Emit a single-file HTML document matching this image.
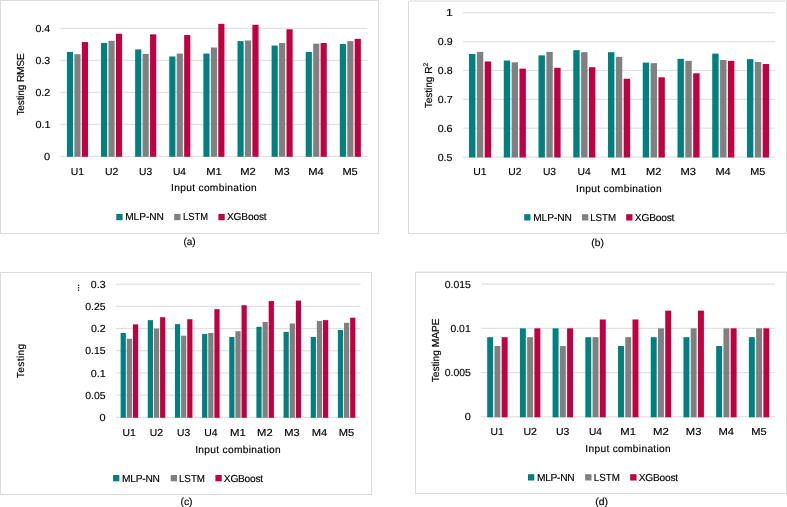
<!DOCTYPE html>
<html><head><meta charset="utf-8"><style>
html,body{margin:0;padding:0;background:#fff;}
svg{display:block;will-change:transform;}
text{font-family:"Liberation Sans",sans-serif;font-size:10.2px;fill:#000000;text-rendering:geometricPrecision;stroke:#000000;stroke-width:0.15px;}
</style></head><body>
<svg width="787" height="507" viewBox="0 0 787 507">
<rect x="0" y="0" width="787" height="507" fill="#fff"/>
<rect x="0.00" y="0.00" width="379.00" height="1.00" fill="#dcdcdc"/>
<rect x="0.00" y="233.00" width="379.00" height="1.00" fill="#dcdcdc"/>
<rect x="0.00" y="0.00" width="1.00" height="234.00" fill="#dcdcdc"/>
<rect x="378.00" y="0.00" width="1.00" height="234.00" fill="#dcdcdc"/>
<rect x="60.50" y="155.70" width="306.90" height="1.20" fill="#e0e0e0"/>
<rect x="60.50" y="123.70" width="306.90" height="1.20" fill="#e0e0e0"/>
<rect x="60.50" y="91.70" width="306.90" height="1.20" fill="#e0e0e0"/>
<rect x="60.50" y="59.70" width="306.90" height="1.20" fill="#e0e0e0"/>
<rect x="60.50" y="27.70" width="306.90" height="1.20" fill="#e0e0e0"/>
<rect x="66.93" y="51.98" width="6.15" height="104.82" fill="#008080"/>
<rect x="74.38" y="54.22" width="6.15" height="102.58" fill="#808080"/>
<rect x="81.83" y="42.06" width="6.15" height="114.74" fill="#C00040"/>
<rect x="101.04" y="43.02" width="6.15" height="113.78" fill="#008080"/>
<rect x="108.49" y="40.78" width="6.15" height="116.02" fill="#808080"/>
<rect x="115.94" y="33.74" width="6.15" height="123.06" fill="#C00040"/>
<rect x="135.15" y="49.42" width="6.15" height="107.38" fill="#008080"/>
<rect x="142.60" y="53.90" width="6.15" height="102.90" fill="#808080"/>
<rect x="150.05" y="34.38" width="6.15" height="122.42" fill="#C00040"/>
<rect x="169.26" y="56.46" width="6.15" height="100.34" fill="#008080"/>
<rect x="176.71" y="53.58" width="6.15" height="103.22" fill="#808080"/>
<rect x="184.16" y="35.02" width="6.15" height="121.78" fill="#C00040"/>
<rect x="203.38" y="53.58" width="6.15" height="103.22" fill="#008080"/>
<rect x="210.82" y="47.50" width="6.15" height="109.30" fill="#808080"/>
<rect x="218.28" y="23.82" width="6.15" height="132.98" fill="#C00040"/>
<rect x="237.49" y="41.10" width="6.15" height="115.70" fill="#008080"/>
<rect x="244.94" y="40.46" width="6.15" height="116.34" fill="#808080"/>
<rect x="252.39" y="24.78" width="6.15" height="132.02" fill="#C00040"/>
<rect x="271.60" y="45.58" width="6.15" height="111.22" fill="#008080"/>
<rect x="279.05" y="43.02" width="6.15" height="113.78" fill="#808080"/>
<rect x="286.50" y="29.26" width="6.15" height="127.54" fill="#C00040"/>
<rect x="305.71" y="51.98" width="6.15" height="104.82" fill="#008080"/>
<rect x="313.16" y="43.66" width="6.15" height="113.14" fill="#808080"/>
<rect x="320.61" y="43.02" width="6.15" height="113.78" fill="#C00040"/>
<rect x="339.82" y="43.98" width="6.15" height="112.82" fill="#008080"/>
<rect x="347.27" y="41.10" width="6.15" height="115.70" fill="#808080"/>
<rect x="354.72" y="38.86" width="6.15" height="117.94" fill="#C00040"/>
<rect x="116.30" y="213.90" width="6.30" height="6.30" fill="#008080"/>
<rect x="174.20" y="213.90" width="6.30" height="6.30" fill="#808080"/>
<rect x="218.40" y="213.90" width="6.30" height="6.30" fill="#C00040"/>
<rect x="408.00" y="1.00" width="379.00" height="1.00" fill="#dcdcdc"/>
<rect x="408.00" y="233.00" width="379.00" height="1.00" fill="#dcdcdc"/>
<rect x="408.00" y="1.00" width="1.00" height="233.00" fill="#dcdcdc"/>
<rect x="786.00" y="1.00" width="1.00" height="233.00" fill="#dcdcdc"/>
<rect x="409.00" y="0.00" width="378.00" height="2.00" fill="#ececec"/>
<rect x="463.00" y="156.40" width="312.10" height="1.20" fill="#e0e0e0"/>
<rect x="463.00" y="127.56" width="312.10" height="1.20" fill="#e0e0e0"/>
<rect x="463.00" y="98.72" width="312.10" height="1.20" fill="#e0e0e0"/>
<rect x="463.00" y="69.88" width="312.10" height="1.20" fill="#e0e0e0"/>
<rect x="463.00" y="41.04" width="312.10" height="1.20" fill="#e0e0e0"/>
<rect x="463.00" y="12.20" width="312.10" height="1.20" fill="#e0e0e0"/>
<rect x="469.02" y="53.92" width="6.40" height="103.58" fill="#008080"/>
<rect x="476.87" y="51.89" width="6.40" height="105.61" fill="#808080"/>
<rect x="484.72" y="61.43" width="6.40" height="96.07" fill="#C00040"/>
<rect x="503.77" y="60.56" width="6.40" height="96.94" fill="#008080"/>
<rect x="511.62" y="62.30" width="6.40" height="95.20" fill="#808080"/>
<rect x="519.47" y="68.65" width="6.40" height="88.85" fill="#C00040"/>
<rect x="538.51" y="55.36" width="6.40" height="102.14" fill="#008080"/>
<rect x="546.36" y="51.89" width="6.40" height="105.61" fill="#808080"/>
<rect x="554.21" y="67.79" width="6.40" height="89.71" fill="#C00040"/>
<rect x="573.26" y="50.16" width="6.40" height="107.34" fill="#008080"/>
<rect x="581.11" y="52.18" width="6.40" height="105.32" fill="#808080"/>
<rect x="588.96" y="67.21" width="6.40" height="90.29" fill="#C00040"/>
<rect x="608.00" y="52.18" width="6.40" height="105.32" fill="#008080"/>
<rect x="615.85" y="56.81" width="6.40" height="100.69" fill="#808080"/>
<rect x="623.70" y="78.77" width="6.40" height="78.73" fill="#C00040"/>
<rect x="642.74" y="62.59" width="6.40" height="94.91" fill="#008080"/>
<rect x="650.59" y="63.16" width="6.40" height="94.34" fill="#808080"/>
<rect x="658.44" y="77.32" width="6.40" height="80.18" fill="#C00040"/>
<rect x="677.49" y="58.83" width="6.40" height="98.67" fill="#008080"/>
<rect x="685.34" y="60.85" width="6.40" height="96.65" fill="#808080"/>
<rect x="693.19" y="73.28" width="6.40" height="84.22" fill="#C00040"/>
<rect x="712.23" y="53.63" width="6.40" height="103.87" fill="#008080"/>
<rect x="720.08" y="59.99" width="6.40" height="97.51" fill="#808080"/>
<rect x="727.93" y="60.85" width="6.40" height="96.65" fill="#C00040"/>
<rect x="746.98" y="59.12" width="6.40" height="98.38" fill="#008080"/>
<rect x="754.83" y="62.01" width="6.40" height="95.49" fill="#808080"/>
<rect x="762.68" y="64.03" width="6.40" height="93.47" fill="#C00040"/>
<rect x="524.20" y="214.20" width="6.30" height="6.30" fill="#008080"/>
<rect x="582.00" y="214.20" width="6.30" height="6.30" fill="#808080"/>
<rect x="626.20" y="214.20" width="6.30" height="6.30" fill="#C00040"/>
<rect x="0.00" y="272.00" width="372.00" height="1.00" fill="#dcdcdc"/>
<rect x="0.00" y="494.00" width="372.00" height="1.00" fill="#dcdcdc"/>
<rect x="0.00" y="272.00" width="1.00" height="223.00" fill="#dcdcdc"/>
<rect x="371.00" y="272.00" width="1.00" height="223.00" fill="#dcdcdc"/>
<rect x="115.90" y="416.70" width="244.70" height="1.20" fill="#e0e0e0"/>
<rect x="115.90" y="394.52" width="244.70" height="1.20" fill="#e0e0e0"/>
<rect x="115.90" y="372.33" width="244.70" height="1.20" fill="#e0e0e0"/>
<rect x="115.90" y="350.15" width="244.70" height="1.20" fill="#e0e0e0"/>
<rect x="115.90" y="327.97" width="244.70" height="1.20" fill="#e0e0e0"/>
<rect x="115.90" y="305.78" width="244.70" height="1.20" fill="#e0e0e0"/>
<rect x="115.90" y="283.60" width="244.70" height="1.20" fill="#e0e0e0"/>
<rect x="120.63" y="333.00" width="5.20" height="84.80" fill="#008080"/>
<rect x="126.78" y="338.77" width="5.20" height="79.03" fill="#808080"/>
<rect x="132.93" y="324.35" width="5.20" height="93.45" fill="#C00040"/>
<rect x="147.78" y="320.14" width="5.20" height="97.66" fill="#008080"/>
<rect x="153.93" y="328.57" width="5.20" height="89.23" fill="#808080"/>
<rect x="160.08" y="317.21" width="5.20" height="100.59" fill="#C00040"/>
<rect x="174.94" y="324.13" width="5.20" height="93.67" fill="#008080"/>
<rect x="181.09" y="335.67" width="5.20" height="82.13" fill="#808080"/>
<rect x="187.24" y="319.25" width="5.20" height="98.55" fill="#C00040"/>
<rect x="202.09" y="333.89" width="5.20" height="83.91" fill="#008080"/>
<rect x="208.24" y="333.00" width="5.20" height="84.80" fill="#808080"/>
<rect x="214.39" y="309.18" width="5.20" height="108.62" fill="#C00040"/>
<rect x="229.25" y="337.00" width="5.20" height="80.80" fill="#008080"/>
<rect x="235.40" y="331.23" width="5.20" height="86.57" fill="#808080"/>
<rect x="241.55" y="305.19" width="5.20" height="112.61" fill="#C00040"/>
<rect x="256.41" y="326.79" width="5.20" height="91.01" fill="#008080"/>
<rect x="262.56" y="321.91" width="5.20" height="95.89" fill="#808080"/>
<rect x="268.71" y="301.06" width="5.20" height="116.74" fill="#C00040"/>
<rect x="283.56" y="331.89" width="5.20" height="85.91" fill="#008080"/>
<rect x="289.71" y="323.46" width="5.20" height="94.34" fill="#808080"/>
<rect x="295.86" y="300.62" width="5.20" height="117.18" fill="#C00040"/>
<rect x="310.72" y="337.00" width="5.20" height="80.80" fill="#008080"/>
<rect x="316.87" y="321.02" width="5.20" height="96.78" fill="#808080"/>
<rect x="323.02" y="320.14" width="5.20" height="97.66" fill="#C00040"/>
<rect x="337.87" y="329.90" width="5.20" height="87.90" fill="#008080"/>
<rect x="344.02" y="322.80" width="5.20" height="95.00" fill="#808080"/>
<rect x="350.17" y="317.70" width="5.20" height="100.10" fill="#C00040"/>
<rect x="77.90" y="284.60" width="1.30" height="1.30" fill="#111"/>
<rect x="77.90" y="287.10" width="1.30" height="1.30" fill="#111"/>
<rect x="77.90" y="289.60" width="1.30" height="1.30" fill="#111"/>
<rect x="113.05" y="475.00" width="6.30" height="6.30" fill="#008080"/>
<rect x="170.70" y="475.00" width="6.30" height="6.30" fill="#808080"/>
<rect x="215.40" y="475.00" width="6.30" height="6.30" fill="#C00040"/>
<rect x="415.00" y="272.00" width="372.00" height="1.00" fill="#dcdcdc"/>
<rect x="415.00" y="493.00" width="372.00" height="1.00" fill="#dcdcdc"/>
<rect x="415.00" y="272.00" width="1.00" height="222.00" fill="#dcdcdc"/>
<rect x="786.00" y="272.00" width="1.00" height="222.00" fill="#dcdcdc"/>
<rect x="416.00" y="271.00" width="371.00" height="1.00" fill="#f0f0f0"/>
<rect x="481.30" y="416.20" width="293.80" height="1.20" fill="#e0e0e0"/>
<rect x="481.30" y="371.97" width="293.80" height="1.20" fill="#e0e0e0"/>
<rect x="481.30" y="327.73" width="293.80" height="1.20" fill="#e0e0e0"/>
<rect x="481.30" y="283.50" width="293.80" height="1.20" fill="#e0e0e0"/>
<rect x="487.18" y="337.18" width="5.95" height="80.12" fill="#008080"/>
<rect x="494.43" y="346.03" width="5.95" height="71.27" fill="#808080"/>
<rect x="501.68" y="337.18" width="5.95" height="80.12" fill="#C00040"/>
<rect x="519.89" y="328.33" width="5.95" height="88.97" fill="#008080"/>
<rect x="527.14" y="337.18" width="5.95" height="80.12" fill="#808080"/>
<rect x="534.39" y="328.33" width="5.95" height="88.97" fill="#C00040"/>
<rect x="552.60" y="328.33" width="5.95" height="88.97" fill="#008080"/>
<rect x="559.85" y="346.03" width="5.95" height="71.27" fill="#808080"/>
<rect x="567.10" y="328.33" width="5.95" height="88.97" fill="#C00040"/>
<rect x="585.31" y="337.18" width="5.95" height="80.12" fill="#008080"/>
<rect x="592.56" y="337.18" width="5.95" height="80.12" fill="#808080"/>
<rect x="599.81" y="319.49" width="5.95" height="97.81" fill="#C00040"/>
<rect x="618.02" y="346.03" width="5.95" height="71.27" fill="#008080"/>
<rect x="625.27" y="337.18" width="5.95" height="80.12" fill="#808080"/>
<rect x="632.52" y="319.49" width="5.95" height="97.81" fill="#C00040"/>
<rect x="650.74" y="337.18" width="5.95" height="80.12" fill="#008080"/>
<rect x="657.99" y="328.33" width="5.95" height="88.97" fill="#808080"/>
<rect x="665.24" y="310.64" width="5.95" height="106.66" fill="#C00040"/>
<rect x="683.45" y="337.18" width="5.95" height="80.12" fill="#008080"/>
<rect x="690.70" y="328.33" width="5.95" height="88.97" fill="#808080"/>
<rect x="697.95" y="310.64" width="5.95" height="106.66" fill="#C00040"/>
<rect x="716.16" y="346.03" width="5.95" height="71.27" fill="#008080"/>
<rect x="723.41" y="328.33" width="5.95" height="88.97" fill="#808080"/>
<rect x="730.66" y="328.33" width="5.95" height="88.97" fill="#C00040"/>
<rect x="748.87" y="337.18" width="5.95" height="80.12" fill="#008080"/>
<rect x="756.12" y="328.33" width="5.95" height="88.97" fill="#808080"/>
<rect x="763.37" y="328.33" width="5.95" height="88.97" fill="#C00040"/>
<rect x="528.00" y="474.20" width="6.30" height="6.30" fill="#008080"/>
<rect x="585.20" y="474.20" width="6.30" height="6.30" fill="#808080"/>
<rect x="630.20" y="474.20" width="6.30" height="6.30" fill="#C00040"/>
<text id="t0" x="43.97" y="159.90" textLength="6.13" lengthAdjust="spacingAndGlyphs">0</text>
<text id="t1" x="35.42" y="127.90" textLength="15.09" lengthAdjust="spacingAndGlyphs">0.1</text>
<text id="t2" x="35.45" y="95.90" textLength="14.83" lengthAdjust="spacingAndGlyphs">0.2</text>
<text id="t3" x="35.59" y="63.90" textLength="14.67" lengthAdjust="spacingAndGlyphs">0.3</text>
<text id="t4" x="35.42" y="31.90" textLength="14.81" lengthAdjust="spacingAndGlyphs">0.4</text>
<text id="t5" x="70.77" y="175.00" textLength="13.32" lengthAdjust="spacingAndGlyphs">U1</text>
<text id="t6" x="104.94" y="175.00" textLength="13.33" lengthAdjust="spacingAndGlyphs">U2</text>
<text id="t7" x="139.01" y="175.00" textLength="13.18" lengthAdjust="spacingAndGlyphs">U3</text>
<text id="t8" x="172.92" y="175.00" textLength="13.11" lengthAdjust="spacingAndGlyphs">U4</text>
<text id="t9" x="206.16" y="175.00" textLength="15.52" lengthAdjust="spacingAndGlyphs">M1</text>
<text id="t10" x="240.16" y="175.00" textLength="15.54" lengthAdjust="spacingAndGlyphs">M2</text>
<text id="t11" x="274.26" y="175.00" textLength="15.43" lengthAdjust="spacingAndGlyphs">M3</text>
<text id="t12" x="308.22" y="175.00" textLength="15.52" lengthAdjust="spacingAndGlyphs">M4</text>
<text id="t13" x="342.43" y="175.00" textLength="15.32" lengthAdjust="spacingAndGlyphs">M5</text>
<text id="t14" x="171.01" y="191.00" textLength="85.65" lengthAdjust="spacing">Input combination</text>
<text id="t15" transform="translate(24.00,115.62) rotate(-90)" x="0" y="0" textLength="62.38" lengthAdjust="spacing">Testing RMSE</text>
<text id="t16" x="125.15" y="220.00" textLength="38.76" lengthAdjust="spacing">MLP-NN</text>
<text id="t17" x="183.01" y="220.00" textLength="25.00" lengthAdjust="spacingAndGlyphs">LSTM</text>
<text id="t18" x="226.99" y="220.00" textLength="39.71" lengthAdjust="spacing">XGBoost</text>
<text id="t19" x="183.40" y="244.70" textLength="12.25" lengthAdjust="spacingAndGlyphs">(a)</text>
<text id="t20" x="437.65" y="160.60" textLength="14.93" lengthAdjust="spacingAndGlyphs">0.5</text>
<text id="t21" x="437.65" y="131.76" textLength="14.93" lengthAdjust="spacingAndGlyphs">0.6</text>
<text id="t22" x="437.89" y="102.92" textLength="14.79" lengthAdjust="spacingAndGlyphs">0.7</text>
<text id="t23" x="437.89" y="74.08" textLength="14.68" lengthAdjust="spacingAndGlyphs">0.8</text>
<text id="t24" x="437.89" y="45.24" textLength="14.77" lengthAdjust="spacingAndGlyphs">0.9</text>
<text id="t25" x="445.96" y="16.40" textLength="6.77" lengthAdjust="spacingAndGlyphs">1</text>
<text id="t26" x="473.24" y="175.00" textLength="13.36" lengthAdjust="spacingAndGlyphs">U1</text>
<text id="t27" x="508.27" y="175.00" textLength="13.25" lengthAdjust="spacingAndGlyphs">U2</text>
<text id="t28" x="542.93" y="175.00" textLength="13.16" lengthAdjust="spacingAndGlyphs">U3</text>
<text id="t29" x="577.48" y="175.00" textLength="13.27" lengthAdjust="spacingAndGlyphs">U4</text>
<text id="t30" x="611.01" y="175.00" textLength="15.50" lengthAdjust="spacingAndGlyphs">M1</text>
<text id="t31" x="645.94" y="175.00" textLength="15.33" lengthAdjust="spacingAndGlyphs">M2</text>
<text id="t32" x="680.60" y="175.00" textLength="15.48" lengthAdjust="spacingAndGlyphs">M3</text>
<text id="t33" x="715.41" y="175.00" textLength="15.31" lengthAdjust="spacingAndGlyphs">M4</text>
<text id="t34" x="750.32" y="175.00" textLength="15.09" lengthAdjust="spacingAndGlyphs">M5</text>
<text id="t35" x="576.01" y="192.00" textLength="85.65" lengthAdjust="spacing">Input combination</text>
<text id="t36" transform="translate(432.00,108.33) rotate(-90)" x="0" y="0" textLength="45.60" lengthAdjust="spacing">Testing R<tspan dy="-3.9" font-size="6.8">2</tspan></text>
<text id="t37" x="533.15" y="221.00" textLength="38.73" lengthAdjust="spacing">MLP-NN</text>
<text id="t38" x="590.16" y="221.00" textLength="26.00" lengthAdjust="spacingAndGlyphs">LSTM</text>
<text id="t39" x="634.87" y="221.00" textLength="39.59" lengthAdjust="spacing">XGBoost</text>
<text id="t40" x="591.29" y="245.70" textLength="12.58" lengthAdjust="spacingAndGlyphs">(b)</text>
<text id="t41" x="99.50" y="420.90" textLength="6.09" lengthAdjust="spacingAndGlyphs">0</text>
<text id="t42" x="85.25" y="398.72" textLength="20.31" lengthAdjust="spacingAndGlyphs">0.05</text>
<text id="t43" x="90.78" y="376.53" textLength="15.07" lengthAdjust="spacingAndGlyphs">0.1</text>
<text id="t44" x="85.25" y="354.35" textLength="20.31" lengthAdjust="spacingAndGlyphs">0.15</text>
<text id="t45" x="90.91" y="332.17" textLength="14.76" lengthAdjust="spacingAndGlyphs">0.2</text>
<text id="t46" x="85.25" y="309.98" textLength="20.31" lengthAdjust="spacingAndGlyphs">0.25</text>
<text id="t47" x="90.89" y="287.80" textLength="14.69" lengthAdjust="spacingAndGlyphs">0.3</text>
<text id="t48" x="122.58" y="436.00" textLength="13.28" lengthAdjust="spacingAndGlyphs">U1</text>
<text id="t49" x="149.89" y="436.00" textLength="13.27" lengthAdjust="spacingAndGlyphs">U2</text>
<text id="t50" x="177.05" y="436.00" textLength="13.11" lengthAdjust="spacingAndGlyphs">U3</text>
<text id="t51" x="204.15" y="436.00" textLength="13.36" lengthAdjust="spacingAndGlyphs">U4</text>
<text id="t52" x="230.05" y="436.00" textLength="15.80" lengthAdjust="spacingAndGlyphs">M1</text>
<text id="t53" x="257.13" y="436.00" textLength="15.58" lengthAdjust="spacingAndGlyphs">M2</text>
<text id="t54" x="284.38" y="436.00" textLength="15.42" lengthAdjust="spacingAndGlyphs">M3</text>
<text id="t55" x="311.65" y="436.00" textLength="15.53" lengthAdjust="spacingAndGlyphs">M4</text>
<text id="t56" x="338.68" y="436.00" textLength="15.49" lengthAdjust="spacingAndGlyphs">M5</text>
<text id="t57" x="195.15" y="452.50" textLength="85.58" lengthAdjust="spacing">Input combination</text>
<text id="t58" transform="translate(24.00,378.33) rotate(-90)" x="0" y="0" textLength="34.61" lengthAdjust="spacing">Testing</text>
<text id="t59" x="122.12" y="481.50" textLength="37.77" lengthAdjust="spacing">MLP-NN</text>
<text id="t60" x="178.91" y="481.50" textLength="26.11" lengthAdjust="spacingAndGlyphs">LSTM</text>
<text id="t61" x="223.87" y="481.50" textLength="39.18" lengthAdjust="spacing">XGBoost</text>
<text id="t62" x="180.44" y="504.80" textLength="12.07" lengthAdjust="spacingAndGlyphs">(c)</text>
<text id="t63" x="464.67" y="420.40" textLength="6.15" lengthAdjust="spacingAndGlyphs">0</text>
<text id="t64" x="444.73" y="376.17" textLength="26.10" lengthAdjust="spacingAndGlyphs">0.005</text>
<text id="t65" x="450.48" y="331.93" textLength="20.20" lengthAdjust="spacingAndGlyphs">0.01</text>
<text id="t66" x="444.73" y="287.70" textLength="26.10" lengthAdjust="spacingAndGlyphs">0.015</text>
<text id="t67" x="490.61" y="435.00" textLength="13.30" lengthAdjust="spacingAndGlyphs">U1</text>
<text id="t68" x="523.41" y="435.00" textLength="13.52" lengthAdjust="spacingAndGlyphs">U2</text>
<text id="t69" x="556.00" y="435.00" textLength="13.40" lengthAdjust="spacingAndGlyphs">U3</text>
<text id="t70" x="588.94" y="435.00" textLength="12.97" lengthAdjust="spacingAndGlyphs">U4</text>
<text id="t71" x="620.27" y="435.00" textLength="15.64" lengthAdjust="spacingAndGlyphs">M1</text>
<text id="t72" x="652.93" y="435.00" textLength="15.84" lengthAdjust="spacingAndGlyphs">M2</text>
<text id="t73" x="685.81" y="435.00" textLength="15.59" lengthAdjust="spacingAndGlyphs">M3</text>
<text id="t74" x="718.48" y="435.00" textLength="15.53" lengthAdjust="spacingAndGlyphs">M4</text>
<text id="t75" x="751.24" y="435.00" textLength="15.44" lengthAdjust="spacingAndGlyphs">M5</text>
<text id="t76" x="585.34" y="452.00" textLength="85.38" lengthAdjust="spacing">Input combination</text>
<text id="t77" transform="translate(439.00,382.33) rotate(-90)" x="0" y="0" textLength="63.97" lengthAdjust="spacing">Testing MAPE</text>
<text id="t78" x="536.94" y="481.00" textLength="37.67" lengthAdjust="spacing">MLP-NN</text>
<text id="t79" x="593.73" y="481.00" textLength="26.09" lengthAdjust="spacingAndGlyphs">LSTM</text>
<text id="t80" x="638.77" y="481.00" textLength="39.32" lengthAdjust="spacing">XGBoost</text>
<text id="t81" x="595.31" y="504.60" textLength="12.75" lengthAdjust="spacingAndGlyphs">(d)</text>
</svg>
</body></html>
